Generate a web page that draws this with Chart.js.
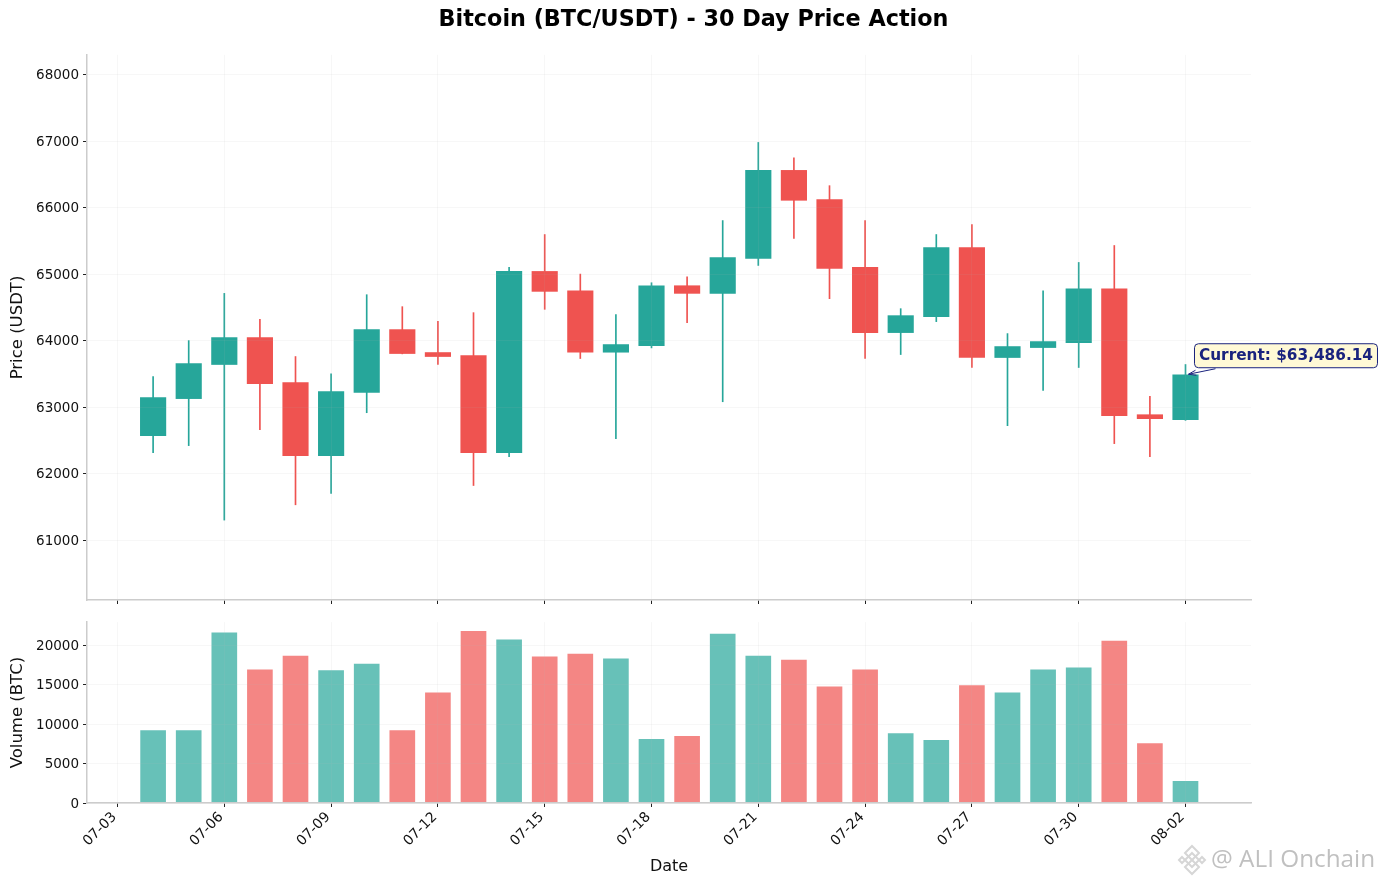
<!DOCTYPE html>
<html>
<head>
<meta charset="utf-8">
<title>BTC/USDT</title>
<script src="https://cdn.jsdelivr.net/npm/chart.js@4"></script>
<style>
  html, body { margin: 0; padding: 0; background: #fff; overflow: hidden; }
  canvas { position: absolute; left: 0; }
  #priceChart { top: 0; }
  #volumeChart { top: 610px; }
</style>
</head>
<body>
<canvas id="priceChart" width="1382" height="620"></canvas>
<canvas id="volumeChart" width="1382" height="275"></canvas>
<script>
const days = [1, 2, 3, 4, 5, 6, 7, 8, 9, 10, 11, 12, 13, 14, 15, 16, 17, 18, 19, 20, 21, 22, 23, 24, 25, 26, 27, 28, 29, 30];
const opens = [62570, 63127, 63640, 64045, 63368, 62270, 63220, 64165, 63820, 63775, 62315, 65040, 64750, 63825, 63925, 64825, 64710, 65235, 66560, 66120, 65100, 64120, 64360, 65400, 63745, 63895, 63970, 64780, 62885, 62810];
const closes = [63142, 63654, 64045, 63353, 62270, 63233, 64165, 63805, 63760, 62315, 65040, 64740, 63825, 63940, 64825, 64710, 65250, 66560, 66110, 65085, 64120, 64375, 65400, 63745, 63910, 63985, 64780, 62870, 62825, 63486.14];
const highs = [63458, 64000, 64710, 64320, 63760, 63500, 64690, 64510, 64290, 64420, 65100, 65595, 65000, 64390, 64870, 64960, 65805, 66980, 66750, 66330, 65805, 64480, 65595, 65745, 64105, 64750, 65175, 65430, 63160, 63640];
const lows = [62315, 62420, 61300, 62660, 61530, 61700, 62915, 63800, 63640, 61820, 62255, 64470, 63730, 62525, 63890, 64270, 63080, 65130, 65535, 64630, 63730, 63790, 64285, 63595, 62720, 63250, 63595, 62450, 62255, 62800];
const volumes = [9200, 9200, 21600, 16900, 18650, 16800, 17650, 9200, 14000, 21800, 20700, 18550, 18900, 18300, 8080, 8450, 21450, 18650, 18150, 14750, 16900, 8800, 7950, 14900, 14000, 16900, 17150, 20550, 7550, 2750];

const tickDays = [0, 3, 6, 9, 12, 15, 18, 21, 24, 27, 30];
const tickLabels = ['07-03', '07-06', '07-09', '07-12', '07-15', '07-18', '07-21', '07-24', '07-27', '07-30', '08-02'];
const priceTicks = [61000, 62000, 63000, 64000, 65000, 66000, 67000, 68000];
const volumeTicks = [0, 5000, 10000, 15000, 20000];

const UP = '#26A69A';
const DOWN = '#EF5350';
const UP_VOL = 'rgba(38,166,154,0.7)';
const DOWN_VOL = 'rgba(239,83,80,0.7)';
const GRID = 'rgba(176,176,176,0.1)';
const SPINE = '#cccccc';
const FONT = '"DejaVu Sans"';
const NAVY = '#1A237E';

Chart.defaults.font.family = FONT;
Chart.defaults.color = '#111';

const isUp = (i) => closes[i] >= opens[i];
const candleColors = days.map((d, i) => (isUp(i) ? UP : DOWN));
const volumeColors = days.map((d, i) => (isUp(i) ? UP_VOL : DOWN_VOL));

const xRange = { min: -0.857, max: 31.84 };

function setTicks(values) {
  return (scale) => { scale.ticks = values.map((v) => ({ value: v })); };
}

function yScale(range, values, title) {
  return Object.assign({}, range, {
    afterBuildTicks: setTicks(values),
    afterFit: (scale) => { scale.width = 82; },
    grid: { color: GRID, z: 1, tickColor: '#222', tickLength: 4 },
    border: { color: SPINE, width: 1.5, z: 1 },
    ticks: { font: { size: 13.5 }, padding: 4, labelOffset: 1, callback: (v) => String(v) },
    title: { display: true, text: title, font: { size: 16.5 }, color: '#111', padding: { top: 3, bottom: 0 } },
  });
}

function xScale(height, showLabels) {
  return Object.assign({ type: 'linear', offset: false }, xRange, {
    afterBuildTicks: setTicks(tickDays),
    afterFit: (scale) => { scale.height = height; },
    grid: { color: GRID, z: 1, offset: false, tickColor: '#222', tickLength: 4 },
    border: { color: SPINE, width: 1.5, z: 1 },
    ticks: {
      display: showLabels,
      autoSkip: false,
      minRotation: 45,
      maxRotation: 45,
      font: { size: 14 },
      padding: 2,
      labelOffset: -3,
      callback: (v) => tickLabels[tickDays.indexOf(v)],
    },
  });
}

// label + arrow pointing at the last close
const currentLabel = {
  id: 'currentLabel',
  afterDraw(chart) {
    const { ctx, scales } = chart;
    const last = days.length - 1;
    const px = scales.x.getPixelForValue(days[last]);
    const py = scales.y.getPixelForValue(closes[last]);
    const text = 'Current: $' + closes[last].toLocaleString('en-US', { minimumFractionDigits: 2 });
    const bx = px + 9, by = py - 31, bw = 183, bh = 24;
    ctx.save();
    ctx.strokeStyle = NAVY;
    ctx.lineWidth = 1;
    ctx.beginPath();
    ctx.moveTo(px + 30, py - 6);
    ctx.lineTo(px + 3, py - 0.5);
    ctx.moveTo(px + 10, py - 4.5);
    ctx.lineTo(px + 3, py - 0.5);
    ctx.lineTo(px + 11, py + 0.5);
    ctx.stroke();
    ctx.beginPath();
    ctx.roundRect(bx, by, bw, bh, 4);
    ctx.fillStyle = '#FFF9D6';
    ctx.fill();
    ctx.stroke();
    ctx.fillStyle = NAVY;
    ctx.font = 'bold 15.3px ' + FONT;
    ctx.textAlign = 'center';
    ctx.textBaseline = 'middle';
    ctx.fillText(text, bx + bw / 2, by + bh / 2 + 0.5);
    ctx.restore();
  },
};

const watermark = {
  id: 'watermark',
  afterDraw(chart) {
    const { ctx } = chart;
    ctx.save();
    ctx.font = '24.3px "Open Sans"';
    ctx.textBaseline = 'middle';
    ctx.textAlign = 'left';
    ctx.lineWidth = 2.5;
    ctx.strokeStyle = 'rgba(255,255,255,0.9)';
    ctx.strokeText('@ ALI Onchain', 1211, 250);
    ctx.fillStyle = '#c0c0c0';
    ctx.fillText('@ ALI Onchain', 1211, 250);
    ctx.strokeStyle = '#d6d6d6';
    ctx.lineWidth = 2;
    const diamonds = [[1192, 243, 7], [1192, 250, 7], [1192, 257, 7], [1182, 250, 3], [1202, 250, 3]];
    diamonds.forEach(([cx, cy, r]) => {
      ctx.beginPath();
      ctx.moveTo(cx, cy - r);
      ctx.lineTo(cx + r, cy);
      ctx.lineTo(cx, cy + r);
      ctx.lineTo(cx - r, cy);
      ctx.closePath();
      ctx.stroke();
    });
    ctx.restore();
  },
};

new Chart(document.getElementById('priceChart'), {
  type: 'bar',
  data: {
    datasets: [
      {
        label: 'Wick',
        data: days.map((d, i) => ({ x: d, y: [lows[i], highs[i]] })),
        backgroundColor: candleColors,
        barThickness: 1,
        grouped: false,
        order: 2,
      },
      {
        label: 'Body',
        data: days.map((d, i) => ({ x: d, y: [opens[i], closes[i]] })),
        backgroundColor: candleColors,
        barThickness: 25.5,
        grouped: false,
        order: 1,
      },
    ],
  },
  options: {
    responsive: false,
    animation: false,
    devicePixelRatio: 1,
    layout: { padding: { left: 5, right: 0, top: 0, bottom: 0 } },
    plugins: {
      legend: { display: false },
      tooltip: { enabled: false },
      title: {
        display: true,
        text: 'Bitcoin (BTC/USDT) - 30 Day Price Action',
        color: '#000',
        font: { size: 22.3, weight: 'bold' },
        padding: { top: 7, bottom: 21.2 },
      },
    },
    scales: {
      x: xScale(20, false),
      y: yScale({ min: 60098, max: 68296 }, priceTicks, 'Price (USDT)'),
      spacer: {
        position: 'right',
        display: true,
        afterFit: (scale) => { scale.width = 131; },
        grid: { display: false },
        border: { display: false },
        ticks: { display: false },
      },
    },
  },
  plugins: [currentLabel],
});

new Chart(document.getElementById('volumeChart'), {
  type: 'bar',
  data: {
    datasets: [
      {
        label: 'Volume',
        data: days.map((d, i) => ({ x: d, y: volumes[i] })),
        backgroundColor: volumeColors,
        barThickness: 25,
      },
    ],
  },
  options: {
    responsive: false,
    animation: false,
    devicePixelRatio: 1,
    layout: { padding: { left: 5, right: 131, top: 11, bottom: 0 } },
    plugins: {
      legend: { display: false },
      tooltip: { enabled: false },
    },
    scales: {
      x: Object.assign(xScale(82, true), {
        title: { display: true, text: 'Date', font: { size: 16 }, color: '#111', padding: { top: 0, bottom: 9 } },
      }),
      y: yScale({ min: 0, max: 22966 }, volumeTicks, 'Volume (BTC)'),
    },
  },
  plugins: [watermark],
});
</script>
</body>
</html>
